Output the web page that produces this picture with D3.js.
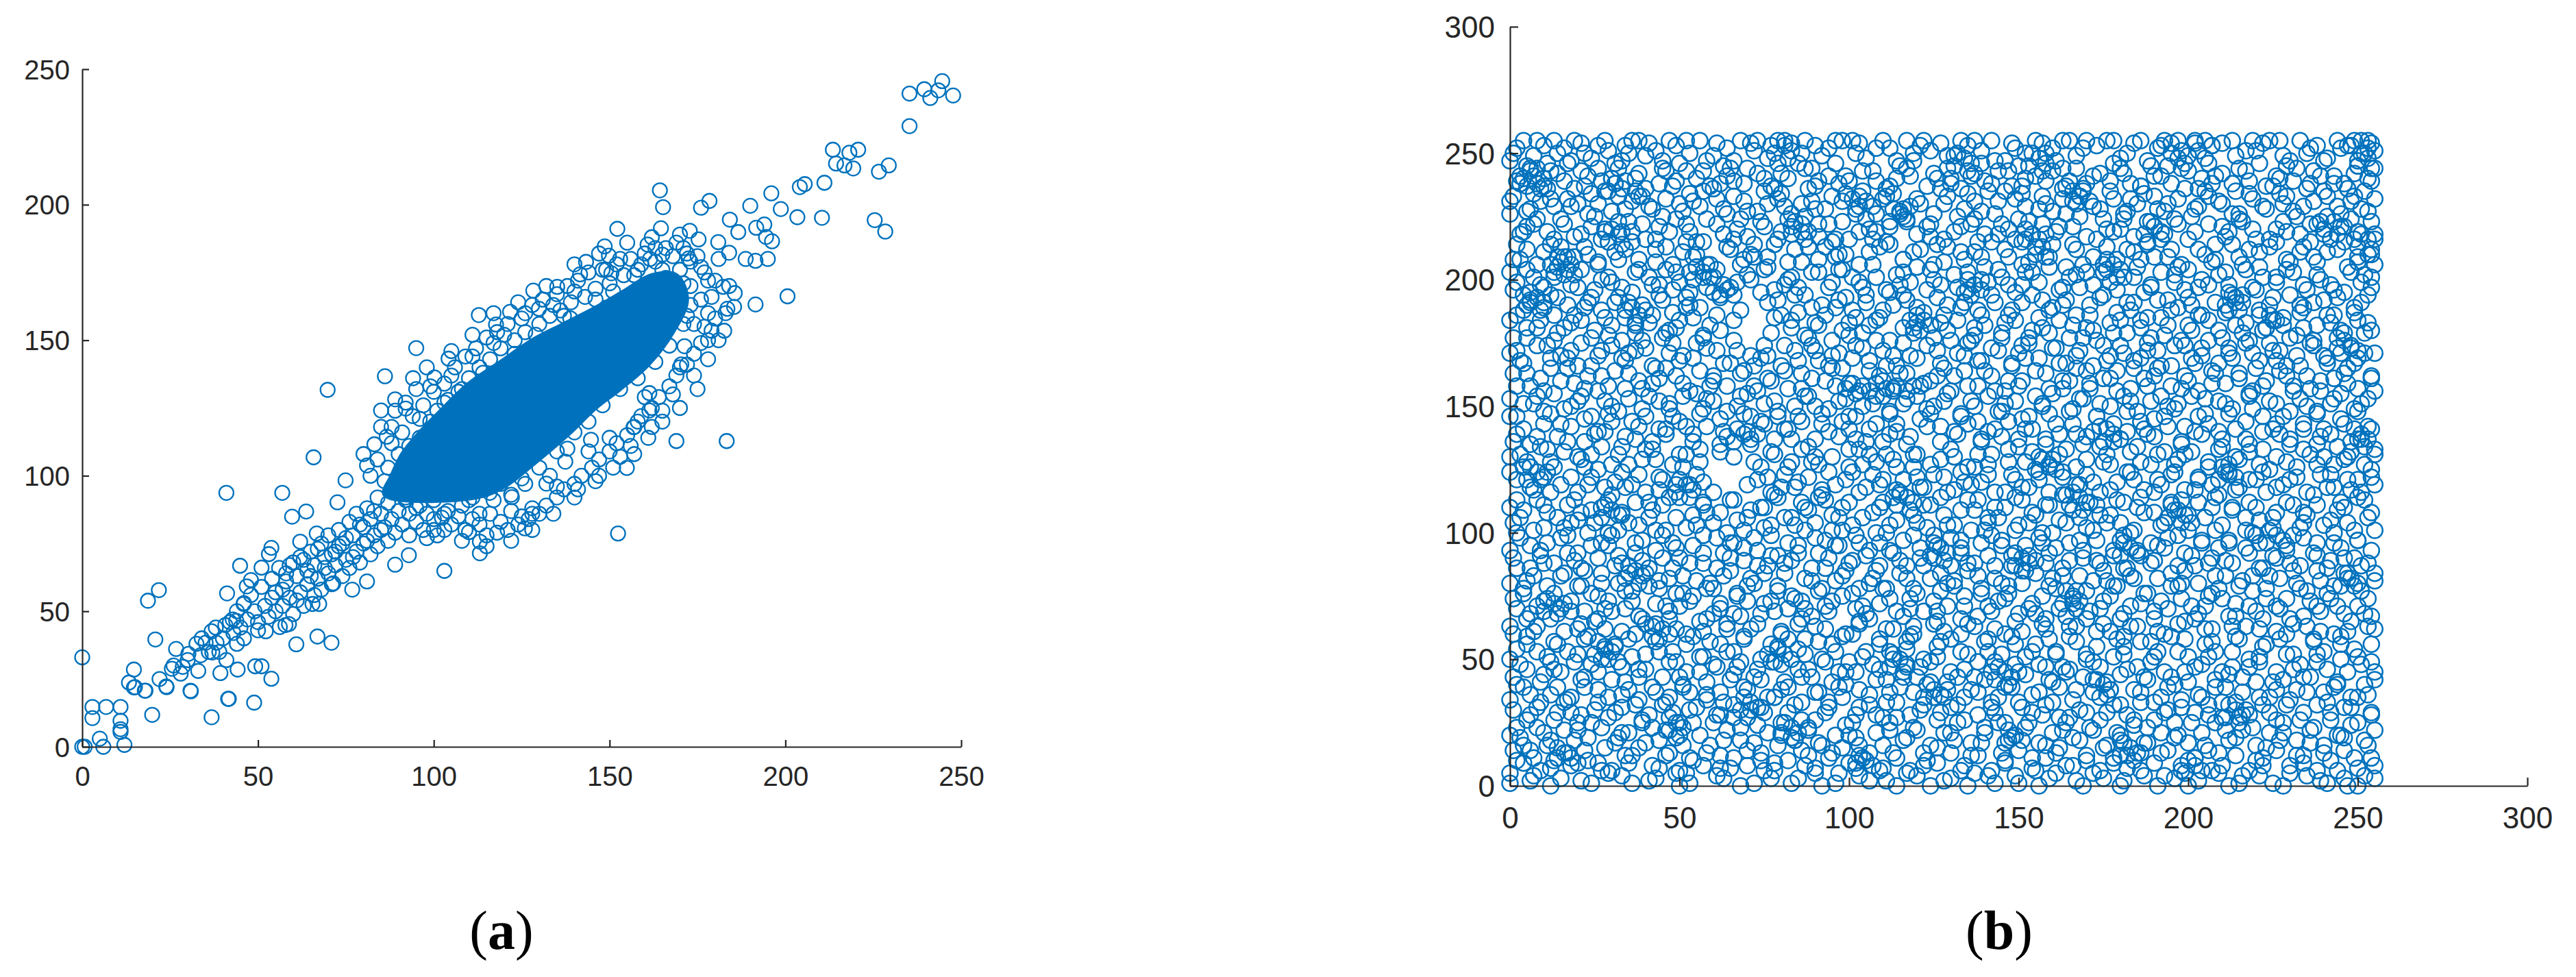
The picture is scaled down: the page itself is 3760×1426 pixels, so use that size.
<!DOCTYPE html>
<html>
<head>
<meta charset="utf-8">
<script src="https://cdn.jsdelivr.net/npm/d3@7"></script>
<style>
  body { margin: 0; background: #fff; }
  .tick text { font-family: "Liberation Sans", Arial, sans-serif; fill: #262626; }
  .panel-label { font-family: "Liberation Serif", "DejaVu Serif", serif; fill: #000; }
</style>
</head>
<body>
<svg id="chart" width="3760" height="1426"></svg>
<script>
// ---- data ----
const leftTicks = [0, 50, 100, 150, 200, 250];
const rightTicks = [0, 50, 100, 150, 200, 250, 300];

// (a) isolated circles
const leftOutliers = [
  [0,0],[0.7,0],[6,0],[12,0.7],[5,3],[0,33],[2.9,14.7],[6.8,14.7],[10.9,14.7],[2.9,10.6],[10.9,9.6],[10.9,5.5],[10.9,6.5],
  [19.9,11.8],[36.8,10.9],[41.5,17.7],[30.8,20.7],[24,22],[15,22],[18,20.7],
  [18.7,53.9],[21.8,57.8],[20.8,39.6],[14.7,28.5],[13.3,23.7],[14.7,21.9],[17.8,20.7],[23.9,22.3],[26.7,36.1],[25.5,28.8],
  [28.6,29.5],[30.9,20.5],[32.5,38],[30.2,34.3],[33.7,33.8],[35.1,38.4],[36.8,42.6],[37,34.8],[38.2,38.4],[39.3,27.2],
  [41.7,17.7],[40.7,44.9],[41.2,56.6],[41,93.7],[42.8,47],[44.2,28.5],[44.9,66.8],[45.9,52.7],[43.8,46.5],[46.8,59.2],
  [48,61.5],[49.2,29.7],[48.9,16.3],[51,29.7],[53.8,25.1],[51,66.1],[53.8,73.4],[53.1,71.1],[52.2,42.6],[56.9,93.7],
  [56.2,44.2],[57.8,44.9],[59.7,84.9],[60.9,37.8],[58.8,45.3],[63.7,86.8],[62,75.7],[65.8,106.8],[66.9,40.7],[70.9,38.4],
  [69.8,131.7],[66.7,78.7],[65.5,52.7],[67.4,52.7],[72.6,90.2],[74.9,98.3],[71.4,60.3],[76.8,58],[81,61],[81,103.8],
  [83.1,111.6],[85,124.1],[86.1,136.7],[89,128.2],[86.6,114.4],[89,67.2],[92.9,70.7],[94.1,136],[95,147.1],[92,124.8],
  [99,116.7],[100.2,136.3],[103,64.9],[102.3,84.5],[104.2,143.2],[110,79.2],[113.1,75.7],[113.1,71.4],[112.8,159.3],[115.9,93.7],
  [117.7,155.8],[121.7,160.5],[122.2,92.1],[125.9,80.6],[128.3,168.3],[129.9,161.6],[132,97.1],[135.1,169.7],[137.4,105.2],[138.8,158.1],
  [141.6,174.3],[143.3,178.9],[144.7,113.3],[148.6,184.6],[149.8,181.2],[152.2,191.1],[150.5,174.7],[152.4,78.7],[154.9,102.9],[156.8,117.9],
  [161.3,124.1],[161.3,130.5],[160.8,185.3],[161.5,180],[164.3,205.3],[165.2,199.1],[164.6,191.3],[165,181.6],[169,112.8],[172.5,180.2],
  [172.8,190.4],[170.4,141.1],[171.3,147.8],[175.3,187.2],[176,198.9],[178.4,201.4],[179,153.5],[182.6,153.5],[183.3,112.8],[180.9,186.2],
  [182.3,169.7],[183.5,161.6],[184.2,194.5],[184,182.3],[185.6,167.4],[185.4,162.3],[186.6,189.9],[190,199.6],[188.7,180],[191.5,179.3],
  [191.5,163.2],[191.7,191.5],[194,192.7],[194.5,188.1],[196,204.2],[196.2,186.5],[195,180],[198.7,198.4],[200.6,166.2],[203.4,195.4],
  [204.1,206.5],[205.5,207.6],[210.4,195.2],[211.1,208.1],[213.5,220.3],[214.4,215.2],[216.8,214.5],[218.2,219.2],[219.3,213.4],[220.7,220.3],
  [226.6,212.2],[229.4,214.5],[225.4,194.3],[228.4,190.1],[235.3,241],[235.3,229],[239.5,242.6],[241.2,239.4],[243.5,242.2],[244.6,245.6],[247.7,240.3]
];

// (a) the band of circles running up to the core
const leftBand = [
  [44,50],[45,44],[46,53],[47,47],[48,56],[49,50],[50,43],[51,59],[52,52],[53,48],[54,62],[54,55],[55,50],[56,66],[57,58],[57,52],
  [58,61],[59,55],[60,68],[60,49],[61,63],[62,57],[62,70],[63,52],[64,65],[64,60],[65,72],[66,56],[66,67],[67,62],[68,75],[68,58],
  [69,70],[70,64],[70,78],[71,60],[72,72],[72,67],[73,80],[74,63],[74,75],[75,69],[76,83],[76,66],[77,78],[78,72],[78,86],[79,68],
  [80,81],[80,75],[81,88],[82,71],[82,84],[83,78],[84,92],[84,74],[85,86],[86,81],[87,90],[87,76],[88,84],[89,94],[89,79],[90,87],
  [91,82],[92,91],[93,78],[93,86],[95,83],[96,89],[97,80],[98,86],[100,84],[101,78],[103,86],[105,82],[107,85],[109,80],[111,84],
  [113,82],[116,86],[119,83],[122,87],[125,85],[128,88],
  [38,44],[40,40],[42,46],[43,42],[44,38],[36,35],[34,40],[39,35],[41,32],[33,28],[30,32],[28,27],[26,30],[22,25],[46,40],[50,46],
  [58,64],[63,69],[67,73],[71,71],[75,77],[79,82],[83,87],[61,54],[65,63],[69,66],[73,74],[77,70],[81,76],[85,80],[55,57],[59,67]
];

// (a) circles round the edge of the dense core
const leftHalo = [
  [82,100],[84,106],[87,103],[88,112],[90,108],[91,116],[93,111],[94,122],[96,114],[97,126],[99,120],[100,131],[101,124],[103,134],
  [104,128],[106,140],[107,131],[109,144],[110,136],[112,147],[113,140],[115,151],[116,143],[118,153],[119,147],[121,156],[123,150],
  [125,158],[126,153],[128,163],[130,156],[131,165],[133,159],[135,167],[136,161],[138,170],[139,164],[141,172],[143,166],[144,175],
  [146,169],[148,176],[150,171],[152,178],[154,174],[156,180],[158,176],[160,182],[163,179],[166,184],[168,181],[171,184],[173,179],
  [176,177],[178,172],[179,166],[178,160],[177,155],[176,149],[174,145],[172,141],[169,137],[167,133],[164,129],[162,125],[159,122],
  [157,118],[155,115],[152,112],[150,109],[147,106],[145,103],[142,100],[140,97],[137,95],[135,92],[132,89],[130,86],[127,84],[124,82],
  [121,80],[118,79],
  [86,98],[92,104],[97,112],[103,120],[108,126],[114,133],[119,138],[125,143],[131,148],[137,153],[143,157],[149,162],[155,166],
  [161,170],[166,173],[171,171],[173,163],[171,156],[167,148],[163,142],[158,136],[153,132],[148,126],[144,120],[140,116],[135,109],
  [130,103],[126,97],[122,93],[117,91],[110,91],[100,91],[92,92],
  [80,108],[85,118],[89,124],[95,132],[98,140],[105,146],[111,152],[117,160],[124,164],[132,170],[140,178],[147,182],[155,186],
  [162,188],[170,189],[181,180],[184,170],[183,160],[181,150],[178,143],[175,132],[170,125],[165,120],[161,114],[157,108],[151,103],
  [146,98],[140,92],[134,86],[128,80],[122,76],[115,78],[108,76],[100,80],
  [88,118],[92,127],[96,121],[99,133],[103,127],[105,137],[108,132],[111,144],[114,138],[117,149],[120,152],[123,145],[126,160],
  [129,152],[134,163],[137,159],[140,168],[146,165],[149,176],[151,168],[153,180],[157,174],[159,178],[163,184],[165,176],[169,186],
  [172,182],[175,181],[177,175],[180,172],
  [90,95],[95,88],[98,93],[104,87],[108,89],[113,86],[119,97],[125,99],[138,110],[144,109],[150,114],[160,129],[170,140],[158,120],
  [165,124],[135,96],[147,100],[153,107],[162,118],[168,130],[174,137],[178,150],[180,158],[111,92],[103,80],[98,77],[115,74],
  [128,86],[141,95],[156,111],[133,100],[176,165],[174,156],
  [170,176],[173,170],[168,168],[164,170],[172,159],[169,160]
];

// (a) outline of the saturated core where the circles merge into solid blue
const leftCore = [
  [86,93],[112,92],[120,96],[128,104],[138,115],[146,125],[153,132],[161,141],[168,153],[172,165],[169,174],
  [162,174],[154,168],[146,162],[137,156],[128,150],[119,142],[110,134],[102,124],[96,116],[91,108],[88,100]
];

// (b) circles, upper half
const rightUpper = [
  [0,247],[2,252],[6,244],[8,255],[10,253],[13,255],[14,250],[19,255],[21,254],[24,248],[28,255],[29,251],[34,253],[36,255],[40,249],[41,254],[47,255],[52,255],[53,250],[58,247],[61,254],[68,255],[72,251],[73,255],[77,253],[81,255],[83,254],[86,250],[87,255],[94,252],[98,255],[101,255],[103,254],[105,248],[110,255],[112,252],[117,255],[122,255],[124,251],[127,254],[131,249],[133,255],[135,253],[142,255],[146,247],[149,252],[155,255],[157,254],[158,250],[163,255],[169,252],[170,255],[176,255],[180,248],[184,254],[186,255],[191,252],[193,255],[195,254],[197,255],[200,249],[202,255],[207,253],[213,255],[217,251],[219,255],[222,254],[224,255],[228,249],[233,255],[236,252],[244,255],[247,253],[249,255],[252,250],[254,254],[255,251],
  [3,241],[5,245],[12,243],[16,239],[17,246],[23,241],[26,244],[30,240],[33,247],[38,242],[44,238],[46,243],[50,246],[55,240],[57,243],[63,245],[66,239],[70,244],[75,240],[79,246],[80,242],[89,244],[91,239],[96,246],[99,241],[107,243],[108,239],[115,245],[118,241],[119,247],[126,240],[129,244],[137,242],[139,246],[140,239],[144,243],[150,245],[152,240],[160,243],[161,247],[165,239],[167,244],[172,241],[178,246],[181,242],[183,238],[189,245],[190,241],[198,244],[204,240],[206,246],[210,242],[215,244],[218,239],[221,246],[226,241],[229,245],[231,239],[237,243],[240,247],[243,241],[246,238],[250,245],[253,240],[255,244],
  [1,233],[3,238],[9,231],[11,236],[12,232],[20,230],[22,237],[24,234],[31,238],[36,231],[37,235],[39,233],[48,237],[50,230],[53,234],[60,236],[61,232],[62,238],[69,231],[75,235],[77,237],[79,232],[86,230],[88,236],[95,233],[97,238],[98,231],[104,235],[110,232],[112,237],[113,234],[121,230],[127,236],[129,233],[130,238],[137,231],[141,235],[148,237],[149,232],[151,234],[158,230],[163,236],[168,233],[170,238],[171,231],[177,235],[183,232],[186,237],[187,234],[194,230],[199,236],[206,233],[207,238],[209,231],[214,235],[219,232],[225,237],[227,234],[228,230],[235,236],[241,233],[243,238],[248,231],[252,235],[255,232],
  [0,226],[5,221],[6,228],[8,224],[16,222],[18,229],[25,225],[28,220],[30,227],[35,223],[42,228],[44,221],[45,225],[52,222],[56,229],[58,224],[64,226],[67,220],[73,227],[74,223],[81,229],[83,221],[87,225],[90,228],[94,222],[102,226],[105,224],[106,220],[115,227],[117,223],[118,229],[123,221],[132,225],[134,228],[136,222],[143,226],[147,220],[150,224],[156,228],[157,222],[164,226],[166,221],[172,229],[175,224],[180,220],[182,227],[189,223],[191,228],[197,222],[201,225],[203,229],[210,221],[213,226],[216,223],[223,228],[226,220],[232,225],[234,229],[238,222],[245,226],[246,221],[251,228],[254,223],
  [2,214],[4,219],[10,211],[13,216],[15,213],[21,218],[23,210],[29,215],[33,219],[34,212],[40,216],[46,213],[47,219],[51,211],[57,215],[63,218],[65,212],[66,216],[71,210],[78,214],[80,219],[84,212],[91,217],[93,213],[99,210],[100,216],[108,219],[109,213],[111,215],[119,211],[124,217],[126,214],[131,219],[133,211],[138,215],[144,218],[146,212],[152,216],[155,210],[160,214],[161,219],[167,212],[173,216],[176,213],[178,219],[184,211],[188,215],[193,218],[195,212],[200,216],[205,210],[208,214],[212,219],[218,212],[220,216],[224,213],[229,219],[233,211],[236,215],[240,218],[244,212],[249,216],[253,210],[255,218],
  [0,203],[3,208],[7,201],[14,205],[16,209],[19,202],[26,206],[27,200],[32,208],[38,204],[41,201],[43,207],[49,203],[54,209],[55,205],[60,201],[68,206],[70,202],[72,209],[76,205],[82,200],[86,207],[89,203],[96,209],[97,204],[101,201],[107,206],[114,202],[116,208],[120,205],[125,200],[128,207],[135,203],[139,209],[140,205],[145,201],[153,207],[154,203],[158,209],[165,201],[169,206],[170,203],[179,208],[181,201],[185,205],[190,209],[196,202],[198,206],[204,200],[207,207],[211,203],[215,209],[221,205],[222,201],[230,207],[231,203],[237,209],[239,200],[247,205],[250,209],[252,202],[255,206],
  [1,196],[6,191],[9,198],[12,194],[17,190],[20,197],[24,193],[30,199],[31,191],[36,195],[44,198],[45,192],[48,196],[53,190],[58,197],[62,193],[67,199],[74,195],[79,192],[81,198],[87,194],[92,190],[94,197],[99,193],[103,199],[105,191],[112,195],[115,198],[117,192],[123,196],[129,190],[132,197],[136,194],[141,199],[143,191],[149,195],[151,198],[157,192],[162,196],[163,190],[168,197],[174,193],[177,199],[182,191],[187,195],[189,198],[194,192],[199,196],[201,190],[206,198],[213,194],[214,191],[219,197],[225,193],[226,199],[233,190],[235,196],[240,192],[242,198],[246,195],[251,191],[254,197],
  [0,184],[4,188],[8,181],[13,186],[18,183],[22,189],[25,180],[28,185],[34,188],[37,182],[42,186],[47,180],[50,184],[52,189],[59,182],[78,185],[83,181],[85,187],[90,183],[96,189],[98,180],[102,185],[106,182],[110,188],[118,184],[121,180],[122,187],[127,183],[133,189],[137,181],[139,186],[146,183],[148,188],[154,180],[156,185],[160,189],[166,182],[171,186],[172,180],[180,184],[183,188],[186,181],[192,185],[197,189],[200,182],[203,186],[209,180],[211,187],[217,183],[221,188],[223,181],[228,185],[234,189],[238,182],[243,186],[245,180],[249,187],[253,183],
  [2,172],[5,177],[11,174],[14,179],[15,170],[21,175],[27,172],[29,178],[35,171],[39,176],[40,173],[46,179],[51,170],[55,175],[57,178],[61,172],[66,176],[71,170],[75,174],[77,179],[84,172],[88,177],[89,174],[95,170],[100,178],[104,173],[108,176],[113,170],[116,175],[119,179],[126,172],[130,176],[134,170],[137,178],[142,173],[145,177],[150,171],[153,175],[159,179],[161,173],[167,170],[169,177],[175,174],[178,179],[181,171],[188,175],[191,172],[193,178],[199,174],[204,170],[206,176],[212,173],[216,179],[219,171],[224,175],[227,172],[232,178],[237,174],[240,170],[244,177],[248,173],[252,179],[255,171],
  [1,163],[3,168],[9,161],[12,165],[17,169],[23,162],[24,166],[31,164],[33,169],[38,160],[43,165],[49,162],[50,168],[56,164],[60,160],[65,167],[68,163],[74,169],[76,161],[80,166],[86,163],[91,168],[93,160],[98,165],[101,169],[109,162],[111,166],[115,163],[120,169],[124,160],[128,165],[131,162],[138,168],[140,164],[147,160],[148,166],[152,169],[158,163],[162,167],[165,160],[170,164],[176,168],[177,161],[184,165],[186,169],[190,162],[195,166],[200,160],[202,167],[208,163],[213,169],[215,161],[220,165],[226,168],[229,162],[233,166],[239,160],[241,167],[246,163],[250,169],[254,161],
  [0,153],[6,158],[7,151],[13,155],[19,159],[20,152],[26,156],[30,150],[34,157],[41,154],[42,159],[47,151],[53,156],[58,153],[59,158],[67,150],[70,155],[72,158],[78,152],[82,157],[87,154],[90,150],[96,158],[99,153],[103,156],[107,151],[113,157],[117,153],[122,159],[125,150],[129,155],[135,158],[136,152],[143,156],[146,151],[150,158],[155,154],[157,150],[163,157],[168,153],[171,159],[174,151],[179,156],[183,152],[188,158],[192,154],[194,150],[198,157],[205,153],[207,159],[211,151],[218,155],[222,158],[224,152],[231,156],[235,150],[236,157],[243,153],[247,159],[251,151],[255,156],
  [2,146],[4,141],[10,148],[15,143],[16,149],[22,145],[28,140],[29,147],[36,144],[39,149],[44,141],[48,146],[52,142],[57,149],[62,145],[63,140],[69,147],[75,143],[79,148],[81,141],[85,146],[92,143],[94,149],[100,141],[102,146],[108,143],[112,148],[114,140],[121,145],[123,149],[127,142],[133,147],[138,144],[141,140],[144,148],[151,145],[152,141],[159,147],[161,143],[166,149],[172,140],[173,146],[178,143],[182,148],[187,141],[190,145],[196,149],[199,142],[203,146],[209,140],[212,147],[217,144],[219,149],[225,141],[228,146],[234,143],[238,148],[240,141],[245,145],[249,149],[253,142],
  [1,136],[3,131],[8,138],[11,133],[17,136],[20,130],[25,139],[27,134],[32,131],[37,137],[40,133],[46,139],[50,131],[54,136],[56,133],[64,138],[66,130],[71,135],[73,139],[77,132],[83,137],[88,134],[90,130],[97,138],[100,133],[105,136],[106,131],[112,139],[117,135],[120,131],[130,133],[132,139],[139,136],[142,131],[145,138],[150,134],[156,130],[158,137],[164,133],[167,139],[169,135],[176,131],[180,137],[185,134],[188,139],[191,131],[198,136],[201,132],[204,139],[210,134],[214,130],[217,137],[222,133],[227,139],[230,135],[236,131],[239,138],[244,134],[247,130],[251,137],[255,133]
];

// (b) circles, lower half
const rightLower = [
  [0,124],[5,128],[9,121],[13,126],[18,122],[21,129],[26,125],[31,120],[35,127],[38,123],[43,129],[45,121],[51,126],[55,123],[72,128],[76,122],[82,126],[85,120],[89,128],[94,124],[99,121],[104,127],[107,123],[113,129],[116,121],[119,126],[125,123],[127,129],[134,120],[137,126],[141,123],[147,128],[149,121],[155,125],[160,129],[163,122],[167,126],[172,120],[175,128],[182,124],[184,121],[189,127],[195,123],[197,129],[203,121],[206,126],[212,123],[215,129],[220,121],[224,125],[229,128],[232,122],[238,127],[242,123],[246,129],[250,121],[254,125],
  [2,113],[6,118],[10,111],[12,116],[19,113],[23,119],[27,110],[30,115],[34,118],[41,112],[44,117],[47,114],[53,119],[57,111],[60,116],[65,113],[70,119],[74,110],[78,115],[80,118],[86,112],[92,117],[93,113],[98,110],[103,116],[109,119],[110,112],[115,115],[121,118],[124,111],[129,116],[135,113],[136,119],[143,110],[146,116],[151,113],[153,118],[158,111],[164,115],[168,119],[171,112],[177,117],[179,113],[185,110],[190,116],[192,119],[198,113],[202,117],[207,110],[209,115],[215,118],[218,112],[223,116],[228,119],[231,111],[237,115],[241,118],[245,112],[248,117],[252,113],[255,119],
  [1,104],[4,109],[7,101],[14,106],[16,102],[21,108],[25,104],[29,100],[33,107],[38,103],[42,109],[46,101],[49,106],[55,103],[58,108],[64,100],[67,105],[71,109],[75,102],[81,106],[84,103],[88,109],[95,101],[97,106],[101,103],[107,108],[111,100],[114,105],[118,109],[123,102],[128,107],[131,103],[137,109],[140,101],[144,106],[150,103],[154,108],[157,100],[162,105],[166,109],[170,102],[174,107],[180,104],[183,100],[187,108],[193,104],[196,109],[200,101],[205,106],[210,103],[213,109],[219,100],[221,105],[226,108],[233,102],[235,107],[240,103],[244,109],[249,101],[253,106],
  [0,93],[3,98],[9,91],[11,96],[17,99],[20,92],[24,95],[30,99],[32,91],[37,96],[43,93],[45,99],[50,90],[54,95],[61,98],[63,92],[66,96],[73,93],[77,99],[79,91],[85,95],[90,98],[91,92],[96,95],[102,99],[105,91],[109,96],[112,93],[119,99],[121,90],[126,95],[130,98],[133,92],[139,96],[142,99],[148,91],[152,95],[156,98],[159,92],[165,96],[169,90],[173,97],[178,93],[181,99],[186,91],[191,95],[194,98],[199,92],[204,96],[207,90],[212,97],[217,94],[220,99],[225,91],[229,95],[234,98],[237,92],[243,96],[246,90],[250,97],[254,93],
  [2,86],[5,81],[10,88],[15,83],[19,89],[22,85],[27,80],[31,87],[35,84],[39,89],[44,81],[48,86],[51,83],[57,88],[59,80],[65,85],[69,89],[71,82],[76,87],[81,84],[83,89],[89,81],[93,86],[98,83],[100,88],[106,80],[108,85],[115,89],[117,82],[122,87],[127,84],[129,80],[135,88],[138,83],[143,87],[145,80],[151,85],[155,89],[160,82],[163,86],[168,83],[173,89],[176,81],[182,86],[184,82],[189,88],[195,84],[198,80],[202,87],[208,83],[211,89],[216,81],[221,86],[224,83],[230,88],[232,80],[238,85],[242,89],[247,82],[251,87],[255,84],
  [1,74],[4,78],[8,71],[13,76],[16,72],[21,79],[26,75],[28,70],[34,77],[36,73],[41,79],[46,71],[49,76],[53,73],[58,78],[62,70],[67,75],[70,79],[75,72],[79,77],[84,74],[87,70],[92,78],[95,73],[101,76],[104,71],[110,78],[112,74],[118,70],[120,76],[125,73],[131,79],[134,71],[139,76],[144,73],[147,79],[153,70],[157,75],[161,78],[166,72],[170,77],[175,73],[178,79],[183,71],[187,76],[192,73],[197,79],[201,71],[206,75],[209,78],[214,72],[219,77],[223,74],[227,70],[233,78],[236,73],[241,76],[244,71],[249,79],[253,74],
  [0,63],[6,68],[7,61],[12,66],[18,69],[20,62],[25,65],[30,69],[33,61],[39,66],[42,63],[47,69],[52,60],[56,65],[60,68],[64,62],[68,67],[73,64],[78,69],[80,61],[86,66],[90,63],[94,69],[99,60],[103,65],[105,68],[113,62],[116,67],[119,63],[126,69],[128,61],[133,66],[137,63],[142,69],[146,60],[149,65],[155,68],[158,62],[164,67],[167,63],[171,69],[177,61],[180,66],[185,63],[190,69],[193,60],[199,65],[203,68],[207,62],[212,67],[217,63],[220,69],[226,61],[230,66],[235,63],[239,69],[243,60],[248,65],[252,68],[255,62],
  [2,54],[5,59],[11,51],[14,56],[17,53],[23,59],[27,50],[31,55],[35,58],[40,52],[43,57],[48,53],[54,59],[57,51],[62,56],[66,53],[69,59],[74,50],[79,55],[82,58],[87,52],[91,57],[96,53],[98,59],[104,51],[109,56],[112,53],[118,59],[122,50],[126,55],[130,58],[135,52],[140,57],[141,53],[148,59],[152,51],[155,56],[161,53],[165,59],[170,50],[173,55],[179,58],[181,52],[186,57],[191,53],[195,59],[200,51],[205,56],[208,53],[214,59],[218,50],[222,55],[227,58],[231,52],[237,57],[240,53],[245,59],[250,51],[254,56],
  [1,43],[3,48],[9,41],[13,46],[19,49],[21,42],[26,45],[32,49],[34,41],[38,46],[45,43],[47,49],[51,40],[56,45],[60,48],[65,42],[67,47],[72,43],[77,49],[81,41],[85,46],[89,43],[93,49],[99,40],[102,45],[107,48],[111,42],[117,47],[120,43],[124,49],[129,41],[134,46],[137,43],[143,49],[147,40],[150,45],[156,48],[159,42],[163,47],[169,43],[172,49],[176,41],[182,46],[187,43],[189,49],[196,40],[199,45],[204,48],[208,42],[213,47],[216,43],[221,49],[225,41],[231,46],[234,43],[238,49],[244,40],[247,45],[251,48],[255,42],
  [0,34],[4,39],[8,31],[12,36],[16,33],[22,39],[25,30],[29,35],[35,38],[37,32],[43,37],[46,33],[51,39],[55,31],[58,36],[63,33],[69,39],[71,30],[76,35],[80,38],[84,32],[90,37],[94,33],[97,39],[103,31],[106,36],[111,33],[115,39],[121,30],[125,35],[129,38],[132,32],[138,37],[142,33],[146,39],[151,31],[154,36],[160,33],[162,39],[168,30],[174,35],[177,38],[180,32],[186,37],[190,33],[194,39],[198,31],[203,36],[210,33],[211,39],[217,30],[221,35],[226,38],[229,32],[235,37],[241,33],[243,39],[248,31],[253,36],
  [2,23],[6,28],[10,21],[13,26],[18,29],[20,22],[24,25],[31,29],[33,21],[39,26],[42,23],[48,29],[50,20],[54,25],[61,28],[64,22],[66,27],[73,24],[75,29],[80,21],[86,26],[88,23],[93,29],[100,20],[101,25],[108,28],[112,22],[114,27],[119,23],[127,29],[130,21],[134,26],[140,23],[143,29],[149,20],[153,25],[157,28],[163,22],[165,27],[171,23],[176,29],[179,21],[184,26],[188,23],[193,29],[197,20],[201,25],[206,28],[211,22],[215,27],[219,23],[224,29],[228,21],[233,26],[237,23],[242,29],[245,20],[250,25],[254,28],
  [1,14],[3,19],[7,11],[11,16],[17,13],[19,18],[23,10],[28,15],[32,19],[36,12],[40,17],[47,13],[49,19],[53,11],[59,16],[62,12],[68,18],[70,14],[74,10],[79,16],[83,19],[88,12],[91,17],[95,13],[102,19],[104,11],[110,16],[113,13],[117,19],[123,10],[126,15],[131,18],[136,12],[139,17],[145,13],[148,19],[154,11],[158,16],[161,13],[166,19],[170,10],[175,15],[180,18],[182,12],[188,17],[192,13],[196,19],[202,11],[205,16],[209,13],[214,19],[220,10],[223,15],[227,18],[232,12],[236,17],[240,13],[246,19],[249,11],[253,16],
  [0,5],[4,9],[6,2],[12,7],[15,3],[20,9],[24,1],[27,6],[33,4],[35,9],[41,2],[44,7],[50,0],[52,5],[57,8],[63,3],[65,7],[72,1],[75,6],[78,9],[85,3],[87,8],[92,0],[97,5],[100,9],[106,2],[109,6],[114,0],[120,4],[122,8],[128,2],[133,6],[135,0],[141,4],[146,9],[150,1],[155,6],[159,3],[164,8],[169,0],[172,5],[178,9],[181,2],[186,6],[191,0],[193,4],[198,8],[203,2],[207,6],[212,0],[216,4],[222,8],[225,1],[230,5],[234,9],[239,2],[244,6],[247,0],[252,4],[255,8]
];

// (b) second pass over the upper half, filling between the first
const rightFillUpper = [
  [1,250],[4,255],[7,249],[11,246],[16,252],[18,247],[22,250],[26,253],[31,246],[35,250],[38,255],[43,251],[45,247],[49,253],[56,255],[60,249],[64,252],[66,247],[71,254],[76,248],[85,246],[90,253],[92,249],[96,255],[102,250],[108,252],[114,247],[119,250],[121,253],[129,249],[137,255],[139,251],[143,247],[148,254],[152,250],[160,252],[165,255],[167,249],[173,253],[178,255],[182,250],[188,247],[192,253],[198,251],[205,248],[210,254],[214,249],[220,251],[227,255],[230,247],[235,250],[238,253],[241,248],[245,252],[250,247],[253,255],
  [2,239],[8,244],[10,237],[14,242],[19,236],[21,243],[27,239],[32,244],[37,240],[40,236],[45,244],[49,239],[52,243],[59,237],[64,241],[65,244],[69,238],[73,242],[78,236],[82,240],[87,244],[90,237],[94,241],[100,239],[104,243],[111,236],[114,240],[117,244],[123,237],[125,242],[130,240],[133,236],[136,241],[142,238],[147,243],[151,237],[155,241],[158,239],[163,244],[169,236],[174,242],[177,239],[180,244],[186,237],[192,241],[195,238],[200,243],[203,236],[208,241],[213,238],[217,243],[223,237],[227,240],[232,244],[236,238],[239,241],[247,236],[249,242],[254,239],
  [0,231],[5,227],[7,234],[13,229],[17,232],[23,226],[26,230],[28,235],[34,228],[38,233],[41,229],[46,232],[51,227],[54,231],[57,235],[63,228],[66,233],[70,227],[76,230],[80,234],[83,226],[89,231],[93,228],[99,234],[103,229],[108,226],[111,233],[116,228],[120,232],[125,226],[128,230],[135,234],[139,227],[144,231],[146,235],[152,229],[157,233],[160,227],[166,231],[169,235],[174,228],[178,232],[181,226],[185,230],[190,233],[193,227],[197,232],[202,228],[205,235],[210,230],[215,226],[218,234],[222,229],[229,233],[231,227],[237,231],[240,235],[244,229],[249,233],[253,227],
  [3,218],[7,222],[11,219],[15,224],[19,217],[24,221],[27,216],[32,223],[36,219],[39,222],[43,216],[49,224],[53,219],[55,215],[61,222],[63,218],[68,224],[70,217],[75,221],[79,216],[82,224],[86,219],[91,222],[96,216],[98,223],[103,219],[107,216],[112,221],[116,225],[120,218],[124,222],[128,216],[133,221],[137,224],[140,218],[145,222],[149,216],[153,223],[158,218],[162,221],[168,225],[170,217],[176,220],[181,224],[184,217],[190,221],[192,216],[196,224],[202,219],[206,222],[211,217],[215,224],[219,220],[224,216],[228,223],[233,218],[236,222],[242,216],[248,224],[250,219],[255,216],
  [1,208],[5,212],[8,206],[12,214],[17,209],[22,213],[26,207],[31,211],[36,215],[38,208],[43,212],[48,206],[52,215],[55,210],[59,206],[64,213],[69,208],[72,214],[76,209],[82,207],[88,213],[91,208],[95,215],[97,210],[103,206],[106,211],[112,214],[116,208],[121,212],[125,206],[129,213],[134,208],[137,211],[142,215],[147,209],[151,206],[157,213],[159,209],[164,205],[166,214],[172,209],[175,206],[182,212],[186,208],[188,214],[194,209],[197,205],[203,212],[208,208],[213,214],[216,206],[221,211],[226,215],[229,208],[234,213],[238,207],[241,211],[246,215],[250,207],[254,210],
  [2,199],[5,204],[10,197],[13,201],[18,198],[21,204],[25,196],[29,201],[33,197],[37,203],[42,198],[46,204],[50,199],[53,195],[57,201],[61,204],[65,197],[71,200],[75,204],[78,196],[83,201],[85,197],[91,203],[95,199],[98,204],[104,197],[108,201],[111,196],[116,203],[118,199],[124,204],[127,198],[131,202],[135,196],[139,200],[144,204],[147,198],[152,203],[156,199],[159,205],[163,197],[167,202],[172,198],[176,204],[179,196],[184,201],[189,197],[192,203],[196,199],[200,204],[203,197],[209,202],[212,198],[217,204],[220,196],[226,201],[229,204],[234,198],[238,202],[243,196],[248,203],[251,199],[254,201],
  [2,186],[6,192],[10,189],[14,193],[19,186],[23,191],[27,188],[32,193],[40,188],[44,194],[48,187],[52,193],[56,189],[61,186],[66,194],[68,188],[76,191],[80,186],[84,194],[89,189],[93,186],[97,192],[101,188],[105,194],[109,185],[113,190],[116,194],[120,189],[126,193],[128,186],[134,191],[138,188],[142,194],[147,186],[151,191],[154,194],[159,188],[164,192],[167,186],[171,190],[175,194],[179,187],[184,191],[188,185],[191,192],[195,188],[200,193],[204,186],[208,191],[212,188],[216,194],[221,186],[224,190],[230,194],[233,187],[237,191],[241,186],[244,193],[249,189],[253,194],
  [1,177],[5,181],[9,184],[13,176],[16,181],[21,184],[24,177],[30,182],[33,176],[37,179],[41,183],[45,177],[49,181],[54,185],[57,177],[62,180],[66,184],[83,184],[87,178],[91,182],[95,176],[100,183],[104,179],[108,184],[112,176],[116,181],[120,183],[125,177],[129,180],[132,184],[136,176],[140,182],[145,179],[149,184],[153,177],[157,181],[162,184],[165,177],[170,181],[173,176],[177,183],[182,179],[186,184],[189,177],[194,182],[198,176],[201,180],[206,184],[210,177],[214,182],[218,176],[222,180],[225,184],[230,177],[234,181],[237,176],[242,183],[246,179],[250,184],[254,180],
  [0,171],[4,167],[8,174],[12,169],[18,172],[20,166],[26,170],[30,174],[34,168],[37,172],[42,166],[47,171],[48,175],[54,169],[58,173],[63,167],[67,172],[72,166],[76,170],[81,174],[85,168],[90,172],[94,166],[97,171],[102,174],[106,168],[110,172],[114,166],[118,170],[123,174],[127,167],[132,171],[135,175],[139,168],[144,172],[148,167],[151,174],[156,169],[160,173],[164,167],[168,172],[172,166],[177,170],[180,174],[184,168],[188,172],[192,166],[196,174],[201,169],[204,173],[209,167],[212,171],[217,175],[221,168],[225,172],[229,166],[232,170],[236,175],[241,169],[244,173],[249,167],[252,171],
  [2,158],[5,163],[10,156],[15,160],[17,165],[22,157],[27,162],[29,158],[35,163],[39,157],[44,161],[46,165],[51,159],[55,155],[60,162],[64,158],[69,164],[73,156],[77,160],[81,164],[86,157],[89,161],[95,165],[100,159],[106,164],[110,160],[113,156],[117,163],[121,158],[126,162],[130,156],[134,164],[138,158],[142,162],[146,156],[151,160],[155,164],[159,157],[163,160],[167,165],[171,157],[175,161],[179,164],[183,157],[187,161],[191,165],[195,158],[199,162],[203,156],[207,164],[211,159],[215,163],[219,156],[223,160],[227,164],[231,158],[235,162],[239,156],[243,161],[247,165],[250,157],[254,162],
  [0,146],[4,151],[8,154],[12,147],[18,150],[21,154],[24,146],[28,152],[32,148],[35,153],[40,146],[44,152],[47,149],[51,154],[56,147],[60,152],[64,148],[68,154],[71,146],[75,151],[79,146],[84,150],[88,154],[92,147],[97,152],[100,146],[104,150],[108,154],[112,147],[116,151],[120,154],[124,147],[128,152],[133,146],[137,150],[141,154],[145,148],[149,152],[153,146],[157,151],[160,155],[165,148],[169,153],[173,146],[177,150],[181,154],[185,148],[189,152],[193,146],[197,151],[201,154],[205,147],[209,152],[213,149],[218,154],[222,146],[226,151],[230,148],[233,153],[238,147],[242,151],[245,155],[250,148],[253,153],
  [2,139],[6,135],[10,143],[14,138],[18,142],[22,136],[26,140],[30,144],[34,138],[38,142],[42,136],[46,141],[50,144],[54,139],[58,142],[62,135],[70,140],[74,144],[78,137],[82,141],[86,144],[90,137],[94,140],[98,144],[102,137],[106,141],[110,136],[114,143],[118,138],[123,142],[127,136],[131,140],[135,143],[139,137],[143,141],[147,144],[150,137],[154,141],[158,135],[162,139],[166,143],[170,138],[174,142],[178,136],[182,140],[186,144],[190,138],[194,142],[198,135],[202,140],[206,143],[210,137],[214,141],[218,135],[222,140],[226,143],[230,137],[234,141],[238,135],[242,139],[246,143],[250,137],[254,141]
];

// (b) second pass over the lower half
const rightFillLower = [
  [0,130],[4,126],[9,134],[12,128],[16,132],[22,126],[24,131],[30,127],[33,134],[39,129],[42,133],[48,127],[52,131],[56,128],[62,132],[74,126],[78,131],[83,128],[86,133],[91,127],[95,130],[100,126],[103,133],[108,128],[111,131],[114,126],[119,131],[124,127],[131,130],[135,126],[138,131],[141,127],[147,133],[152,128],[154,132],[159,126],[162,131],[170,129],[174,134],[177,127],[183,132],[186,128],[193,132],[196,127],[199,131],[206,128],[209,133],[212,127],[218,132],[221,127],[226,130],[232,126],[234,133],[240,130],[243,127],[248,132],[252,127],[255,131],
  [2,121],[7,117],[11,124],[15,119],[20,116],[24,122],[28,118],[33,124],[36,119],[40,116],[44,122],[49,119],[57,120],[73,121],[77,116],[81,123],[84,118],[88,122],[92,115],[96,119],[101,124],[105,118],[110,121],[114,117],[120,122],[122,118],[128,122],[131,117],[133,124],[139,120],[143,116],[148,123],[151,118],[156,121],[159,116],[163,124],[167,119],[170,123],[174,116],[179,120],[183,124],[187,117],[191,121],[196,124],[199,117],[203,122],[207,119],[211,124],[214,117],[218,121],[222,124],[226,118],[230,121],[235,116],[239,123],[243,118],[247,121],[251,116],[254,122],
  [0,110],[3,106],[8,113],[11,108],[17,111],[20,105],[24,109],[29,113],[33,108],[37,112],[41,106],[45,111],[50,114],[54,107],[57,112],[62,108],[66,113],[70,106],[75,110],[79,114],[83,106],[87,110],[91,114],[95,107],[100,112],[104,106],[109,110],[113,114],[119,107],[122,111],[127,114],[133,109],[138,113],[141,106],[146,110],[149,114],[155,107],[159,111],[163,115],[168,106],[173,111],[177,107],[181,112],[186,114],[190,108],[195,112],[200,107],[203,112],[208,114],[213,110],[217,106],[220,110],[225,106],[229,112],[234,108],[238,111],[242,105],[246,110],[250,114],[254,108],
  [2,100],[6,95],[10,102],[15,98],[18,104],[23,100],[27,96],[32,101],[35,104],[39,97],[43,101],[48,96],[52,102],[57,99],[60,104],[65,96],[69,101],[72,98],[77,103],[82,96],[87,101],[90,104],[93,97],[98,101],[103,96],[108,100],[112,103],[116,97],[120,104],[125,99],[129,103],[133,97],[136,101],[141,104],[145,97],[149,101],[153,104],[157,96],[160,100],[164,104],[168,97],[172,101],[176,104],[180,97],[184,101],[189,96],[192,103],[197,99],[201,104],[204,97],[208,101],[212,96],[217,101],[221,96],[225,102],[231,99],[234,104],[238,96],[243,100],[247,104],[250,97],[255,101],
  [1,90],[6,86],[9,93],[13,88],[17,92],[21,86],[26,90],[29,95],[33,88],[37,92],[41,86],[45,90],[49,94],[53,88],[57,92],[61,86],[65,90],[69,94],[73,87],[77,91],[81,88],[85,92],[89,86],[94,90],[97,95],[101,89],[106,93],[109,87],[113,92],[117,87],[121,94],[125,90],[130,87],[133,94],[137,88],[141,91],[145,95],[149,87],[153,91],[158,88],[161,94],[165,89],[169,93],[174,88],[178,91],[181,86],[185,93],[190,89],[193,94],[197,87],[201,91],[206,88],[209,94],[213,88],[218,92],[222,86],[226,90],[229,93],[233,87],[238,91],[241,86],[245,94],[249,90],[253,88],
  [0,80],[4,76],[7,83],[11,79],[16,84],[20,79],[24,76],[27,84],[32,80],[36,77],[40,84],[44,78],[47,82],[51,76],[55,81],[60,78],[63,83],[67,76],[72,80],[75,84],[79,79],[83,75],[87,82],[91,77],[96,81],[99,85],[103,78],[107,82],[111,78],[115,84],[119,78],[124,82],[127,77],[131,81],[135,85],[139,78],[143,82],[147,76],[151,80],[155,84],[159,79],[163,83],[167,77],[172,81],[175,85],[179,79],[183,83],[188,76],[191,82],[195,79],[199,85],[203,80],[207,76],[211,83],[215,79],[219,83],[223,78],[227,82],[231,85],[235,77],[239,81],[243,79],[247,84],[251,77],[255,81],
  [2,70],[5,66],[10,73],[14,68],[18,73],[22,69],[26,66],[29,73],[34,70],[38,67],[43,72],[47,66],[50,71],[54,75],[58,66],[62,72],[66,68],[70,73],[74,68],[77,73],[82,70],[86,73],[89,67],[93,71],[98,75],[102,70],[106,66],[109,72],[114,69],[118,74],[122,69],[126,65],[129,71],[134,75],[138,67],[141,71],[146,74],[150,68],[154,72],[158,66],[162,70],[166,74],[170,66],[174,70],[177,75],[181,68],[186,72],[190,66],[194,70],[198,74],[202,66],[205,71],[210,74],[214,67],[218,71],[222,66],[226,71],[229,74],[234,67],[238,71],[242,74],[246,68],[250,71],[254,67],
  [1,60],[5,56],[8,63],[13,57],[16,61],[21,64],[22,58],[28,62],[31,56],[37,60],[40,64],[44,58],[49,62],[52,56],[57,61],[59,57],[64,64],[69,58],[71,62],[77,56],[80,60],[85,64],[87,58],[93,62],[95,56],[101,60],[103,64],[109,58],[111,62],[117,57],[119,60],[125,64],[127,57],[133,60],[135,64],[141,58],[143,62],[149,56],[151,61],[157,64],[159,58],[165,63],[167,57],[173,61],[175,64],[181,59],[183,63],[189,57],[191,61],[197,64],[199,58],[205,62],[207,57],[213,63],[215,58],[221,62],[223,56],[229,60],[231,64],[237,58],[239,61],[245,56],[247,61],[253,63],
  [0,50],[5,46],[8,53],[12,49],[15,45],[20,52],[24,48],[28,54],[33,47],[36,51],[40,46],[44,53],[49,49],[52,45],[56,51],[61,47],[64,53],[68,49],[73,46],[76,52],[80,48],[85,54],[88,46],[92,50],[97,45],[100,49],[105,53],[109,46],[113,50],[117,54],[121,47],[126,51],[130,45],[133,53],[138,49],[142,45],[145,52],[149,48],[154,53],[158,47],[161,52],[165,46],[170,52],[174,47],[178,51],[181,55],[185,47],[190,51],[193,45],[197,53],[202,47],[206,51],[210,45],[213,53],[218,47],[221,51],[226,45],[229,52],[233,48],[238,52],[241,46],[245,50],[249,54],[254,49],
  [2,40],[6,36],[10,44],[14,39],[18,35],[22,43],[26,38],[30,42],[33,36],[38,43],[42,39],[47,35],[50,43],[53,37],[58,41],[62,37],[66,44],[70,38],[74,42],[78,35],[82,39],[86,43],[91,37],[95,41],[99,45],[103,38],[108,42],[112,37],[116,43],[119,37],[124,41],[128,35],[132,43],[136,38],[140,42],[144,35],[148,39],[152,44],[156,37],[160,41],[164,45],[167,38],[172,42],[176,36],[180,44],[184,38],[188,42],[192,35],[195,43],[200,41],[204,35],[208,39],[212,44],[216,37],[220,41],[224,35],[228,42],[232,38],[236,43],[240,37],[244,41],[248,35],[252,40],[255,45],
  [1,30],[5,26],[9,33],[14,29],[17,34],[21,28],[26,33],[29,27],[33,31],[38,34],[41,28],[45,32],[50,25],[53,30],[58,34],[62,28],[66,32],[70,27],[74,31],[78,35],[82,29],[86,33],[90,26],[94,31],[98,35],[102,28],[106,32],[110,27],[114,33],[118,28],[122,32],[126,26],[130,31],[134,35],[138,28],[142,31],[146,25],[150,33],[154,29],[158,32],[162,27],[166,34],[170,29],[174,26],[178,32],[182,28],[186,33],[190,26],[194,30],[198,34],[202,29],[206,32],[210,27],[214,33],[218,28],[222,32],[226,26],[230,34],[234,29],[238,32],[242,26],[246,31],[250,35],[254,29],
  [0,20],[4,16],[8,23],[12,18],[16,22],[20,25],[23,19],[27,23],[31,17],[35,21],[39,25],[44,18],[47,22],[51,16],[56,20],[60,25],[63,18],[68,23],[72,17],[76,21],[80,25],[84,18],[88,22],[92,16],[96,20],[99,24],[103,16],[108,21],[112,25],[116,18],[120,22],[124,16],[128,21],[132,25],[136,17],[140,21],[144,25],[147,18],[152,23],[156,17],[160,21],[164,25],[168,18],[172,22],[176,16],[180,20],[184,24],[187,17],[192,21],[196,25],[200,17],[204,21],[208,25],[212,18],[216,22],[220,16],[224,21],[228,25],[232,18],[236,22],[240,16],[244,20],[248,24],[252,18],[255,22],
  [2,10],[6,14],[9,6],[14,11],[18,8],[22,14],[26,9],[30,6],[34,12],[38,15],[42,8],[46,12],[50,6],[54,10],[58,13],[62,7],[66,11],[70,8],[74,13],[78,6],[82,10],[86,14],[90,7],[94,11],[98,15],[102,9],[106,13],[110,7],[114,11],[118,6],[122,13],[126,9],[130,13],[134,8],[138,12],[142,6],[146,10],[150,14],[154,7],[158,11],[162,15],[166,8],[170,12],[174,6],[178,11],[182,7],[186,13],[190,9],[194,14],[198,6],[202,11],[206,14],[210,8],[214,12],[218,6],[222,11],[226,14],[230,8],[234,12],[238,6],[242,10],[246,14],[250,7],[254,11],
  [0,1],[7,4],[12,0],[21,2],[29,5],[36,1],[43,3],[49,5],[53,1],[61,4],[68,0],[77,3],[83,1],[90,5],[96,1],[103,4],[111,2],[117,5],[124,0],[130,3],[137,5],[143,1],[149,4],[156,0],[161,5],[167,2],[175,3],[180,0],[187,4],[196,3],[200,0],[209,5],[215,1],[221,4],[228,0],[235,4],[241,1],[246,3],[250,0],[255,3]
];

// (b) tight clumps where circles pile up
const rightClumps = [
  [5,237],[7,241],[8,238],[10,240],[6,243],[9,236],[4,240],[29,235],[31,238],[33,236],[30,240],[34,239],[32,233],
  [13,203],[15,207],[17,204],[14,209],[18,206],[12,206],[16,202],[19,209],[5,190],[8,193],[6,195],[10,191],[4,194],[9,188],
  [34,185],[36,189],[38,186],[35,191],[39,190],[37,183],[29,215],[32,218],[30,220],[33,214],[28,219],
  [54,200],[57,203],[55,205],[59,201],[58,206],[53,203],[60,195],[63,198],[62,194],[64,196],
  [83,218],[86,222],[88,219],[84,223],[87,216],[78,250],[81,253],[83,251],[79,255],[82,248],
  [102,228],[105,231],[103,233],[107,229],[101,232],[112,223],[115,226],[117,224],[113,228],
  [131,245],[134,248],[136,246],[132,250],[135,243],[134,195],[137,198],[135,200],[139,196],[119,181],[122,184],[120,186],[124,182],
  [151,215],[154,218],[156,216],[152,220],[155,213],[153,245],[156,248],[158,246],[154,250],[157,243],
  [163,232],[166,235],[168,233],[164,237],[167,230],[175,203],[178,206],[176,208],[180,204],[179,201],
  [187,218],[190,221],[188,223],[192,219],[194,245],[197,248],[199,246],[195,250],[202,254],[205,255],[207,253],[203,251],
  [211,190],[214,193],[212,195],[216,191],[215,188],[223,181],[226,184],[224,186],[228,182],
  [240,220],[243,223],[241,225],[245,221],[244,218],[239,223],[248,253],[251,255],[253,252],[250,245],[253,248],[254,244],[251,250],
  [99,157],[101,159],[104,158],[106,156],[108,159],[111,157],[114,158],[117,156],[119,158],[102,155],[110,154],
  [66,136],[69,139],[67,141],[71,137],[49,116],[52,119],[50,121],[54,117],[53,114],[27,106],[30,109],[28,111],[32,107],
  [5,121],[8,124],[6,126],[10,122],[34,82],[37,85],[35,87],[39,83],[38,80],[10,69],[13,72],[11,74],[15,70],
  [25,52],[28,55],[26,57],[30,53],[29,50],[42,59],[45,62],[43,64],[47,60],[46,22],[49,25],[47,27],[51,23],
  [13,10],[16,13],[14,15],[18,11],[80,20],[83,23],[81,25],[85,21],[84,18],[78,49],[81,52],[79,54],[83,50],
  [112,47],[115,50],[113,52],[117,48],[116,45],[122,35],[125,38],[123,40],[127,36],
  [124,91],[127,94],[125,96],[129,92],[128,89],[114,111],[117,114],[115,116],[119,112],
  [148,87],[151,90],[149,92],[153,88],[152,85],[156,124],[159,127],[157,129],[161,125],
  [165,111],[168,114],[166,116],[170,112],[169,109],[175,136],[178,139],[176,141],[180,137],
  [180,91],[183,94],[181,96],[185,92],[194,106],[197,109],[195,111],[199,107],[198,104],
  [209,121],[212,124],[210,126],[214,122],[223,96],[226,99],[224,101],[228,97],
  [211,27],[214,30],[212,32],[216,28],[215,25],[245,79],[248,82],[246,84],[250,80],
  [248,136],[251,139],[249,141],[253,137],[252,134],[245,171],[248,174],[246,176],[250,172],
  [250,213],[253,216],[251,218],[254,212],[163,72],[166,75],[164,77],[168,73],[167,70],
  [143,42],[146,45],[144,47],[148,43],[172,37],[175,40],[173,42],[177,38],
  [180,12],[183,15],[181,17],[185,13],[184,10],[199,5],[202,8],[200,10],[204,6],
  [102,7],[105,10],[103,12],[107,8],[68,30],[71,33],[69,35],[73,31],[146,17],[149,20],[147,22],[151,18]
];

const panelLabels = ["a", "b"];

// ---- drawing ----
const svg = d3.select("#chart");
const blue = "#0072BD";
const ink = "#262626";

function drawAxes(x, y, ticksX, ticksY, fontSize, tickLen, yPad, xOff) {
  const [x0] = x.range();
  const [y0] = y.range();

  const gx = svg.append("g")
    .attr("transform", `translate(0,${y0})`)
    .call(d3.axisBottom(x).tickValues(ticksX).tickSizeInner(-tickLen).tickSizeOuter(0));
  gx.selectAll(".tick text")
    .attr("y", xOff)
    .attr("dy", null)
    .attr("dominant-baseline", "central")
    .style("font-size", fontSize + "px");

  const gy = svg.append("g")
    .attr("transform", `translate(${x0},0)`)
    .call(d3.axisLeft(y).tickValues(ticksY).tickSizeInner(-tickLen).tickSizeOuter(0));
  gy.selectAll(".tick text")
    .attr("x", -yPad)
    .attr("dy", null)
    .attr("dominant-baseline", "central")
    .style("font-size", fontSize + "px");

  svg.selectAll(".domain, .tick line").attr("stroke", ink).attr("stroke-width", 2.2);
}

function drawRings(data, x, y, r, sw) {
  svg.append("g")
    .selectAll("circle")
    .data(data)
    .join("circle")
      .attr("cx", d => x(d[0]))
      .attr("cy", d => y(d[1]))
      .attr("r", r)
      .attr("fill", "none")
      .attr("stroke", blue)
      .attr("stroke-width", sw);
}

// (a)
const xa = d3.scaleLinear().domain([0, 250]).range([120, 1403]);
const ya = d3.scaleLinear().domain([0, 250]).range([1090, 101]);

const coreLine = d3.line()
  .x(d => xa(d[0]))
  .y(d => ya(d[1]))
  .curve(d3.curveCatmullRomClosed);

svg.append("path")
  .datum(leftCore)
  .attr("d", coreLine)
  .attr("fill", blue)
  .attr("stroke", blue)
  .attr("stroke-width", 6);

drawRings(leftBand.concat(leftHalo, leftOutliers), xa, ya, 10.5, 2.3);
drawAxes(xa, ya, leftTicks, leftTicks, 40, 10, 18, 43);

// (b)
const xb = d3.scaleLinear().domain([0, 300]).range([2204, 3689]);
const yb = d3.scaleLinear().domain([0, 300]).range([1147, 39]);

drawRings(rightUpper.concat(rightLower, rightFillUpper, rightFillLower, rightClumps), xb, yb, 11.5, 2.5);
drawAxes(xb, yb, rightTicks, rightTicks, 44, 12, 22, 46);

// sub-figure labels
svg.selectAll(".panel-label")
  .data(panelLabels)
  .join("text")
    .attr("class", "panel-label")
    .attr("x", (d, i) => i === 0 ? 732 : 2918)
    .attr("y", 1385)
    .attr("text-anchor", "middle")
    .style("font-size", "80px")
    .html(d => `(<tspan font-weight="bold">${d}</tspan>)`);
</script>
</body>
</html>
